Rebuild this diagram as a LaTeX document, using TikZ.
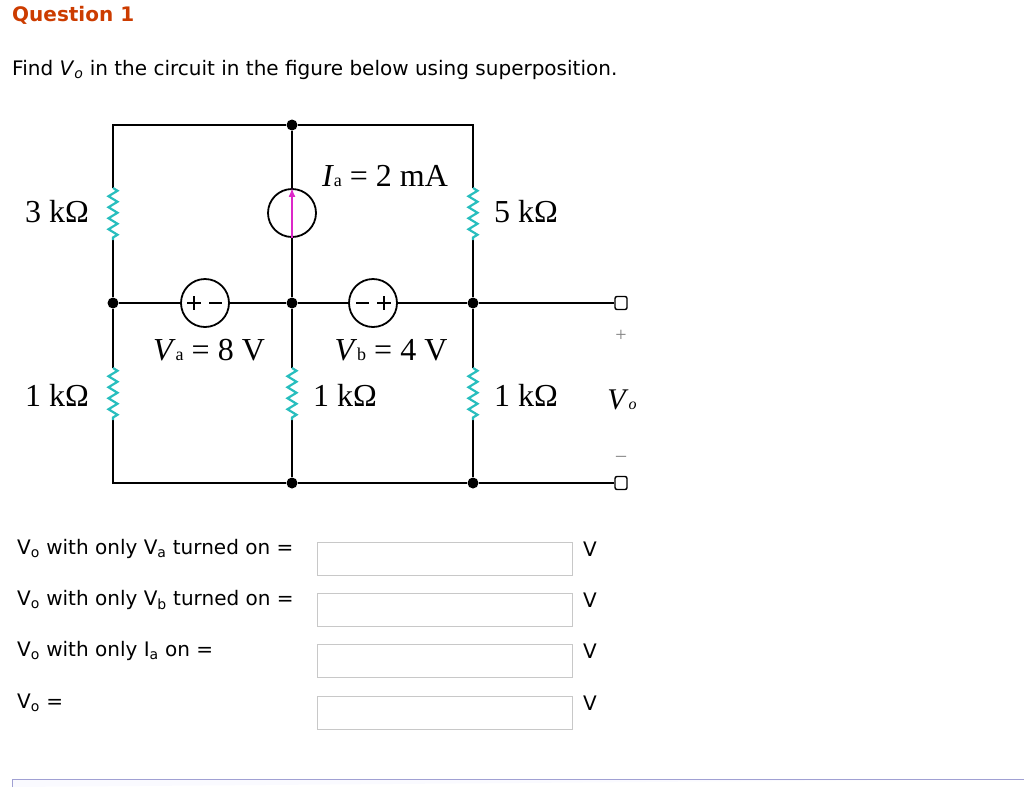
\documentclass[tikz,border=0pt]{standalone}
\usepackage{fontspec}
\setmainfont{Liberation Serif}
\newfontfamily\ui{DejaVu Sans}
\usetikzlibrary{decorations.pathmorphing}
\definecolor{qorange}{RGB}{204,60,0}
\definecolor{rescol}{RGB}{40,190,190}
\definecolor{srcpink}{RGB}{220,40,200}
\definecolor{boxgray}{RGB}{200,200,200}
\tikzset{
  wire/.style={line width=2.2pt},
  dotn/.style={circle,fill=black,inner sep=0pt,minimum size=11pt},
  term/.style={draw,fill=white,line width=1.4pt,inner sep=0pt,minimum width=12pt,minimum height=13pt,rounded corners=2pt},
  res/.style={rescol,line width=2.2pt,decorate,decoration={zigzag,amplitude=4.5pt,segment length=11pt}},
  src/.style={draw,circle,fill=white,line width=1.8pt,minimum size=48pt,inner sep=0pt},
  lab/.style={font=\fontsize{32}{36}\selectfont,inner sep=0pt},
  ui/.style={font=\ui\fontsize{20}{24}\selectfont,inner sep=0pt,anchor=west},
  ansbox/.style={draw=boxgray,line width=1pt,minimum width=255pt,minimum height=33pt,anchor=north west,inner sep=0pt}
}
\begin{document}
\begin{tikzpicture}[x=1pt,y=-1pt]
\useasboundingbox (0,0) rectangle (1024,787);
% nodes
\node[dotn] (tm) at (292,125) {};
\node[dotn] (ml) at (113,303) {};
\node[dotn] (mm) at (292,303) {};
\node[dotn] (mr) at (473,303) {};
\node[dotn] (bm) at (292,483) {};
\node[dotn] (br) at (473,483) {};
\coordinate (tl) at (113,125);
\coordinate (tr) at (473,125);
\coordinate (bl) at (113,483);
\node[term] (tp) at (621,303) {};
\node[term] (tn) at (621,483) {};
% resistor ends
\coordinate (r1a) at (113,188); \coordinate (r1b) at (113,240);
\coordinate (r2a) at (113,368); \coordinate (r2b) at (113,420);
\coordinate (r3a) at (292,368); \coordinate (r3b) at (292,420);
\coordinate (r4a) at (473,188); \coordinate (r4b) at (473,240);
\coordinate (r5a) at (473,368); \coordinate (r5b) at (473,420);
% sources
\node[src] (ia) at (292,213) {};
\node[src] (va) at (205,303) {};
\node[src] (vb) at (373,303) {};
% wires
\draw[wire] (ml) -- (r1b); \draw[wire] (r1a) -- (tl) -- (tm) -- (tr) -- (r4a);
\draw[wire] (r4b) -- (mr);
\draw[wire] (ml) -- (r2a); \draw[wire] (r2b) -- (bl) -- (bm) -- (br) -- (tn);
\draw[wire] (tm) -- (ia); \draw[wire] (ia) -- (mm);
\draw[wire] (ml) -- (va); \draw[wire] (va) -- (mm) -- (vb); \draw[wire] (vb) -- (mr) -- (tp);
\draw[wire] (mm) -- (r3a); \draw[wire] (r3b) -- (bm);
\draw[wire] (mr) -- (r5a); \draw[wire] (r5b) -- (br);
% resistors
\foreach \a/\b in {r1a/r1b,r2a/r2b,r3a/r3b,r4a/r4b,r5a/r5b}{\draw[res] (\a) -- (\b);}
% source marks
\draw[srcpink,line width=2pt,-latex] (ia.south) -- (ia.north);
\draw[line width=1.4pt] (187,303) -- (201,303) (194,296) -- (194,310) (209,303) -- (222,303);
\draw[line width=1.4pt] (356,303) -- (369,303) (377,303) -- (391,303) (384,296) -- (384,310);
% labels
\node[lab] (l1) at (57,212) {3 kΩ};
\node[lab] (l2) at (57,395) {1 kΩ};
\node[lab] (l3) at (345,395) {1 kΩ};
\node[lab] (l4) at (526,212) {5 kΩ};
\node[lab] (l5) at (526,395) {1 kΩ};
\node[lab] (l6) at (385,176) {\textit{I}{\fontsize{18}{20}\selectfont a} = 2 mA};
\node[lab] (l7) at (209,350) {\textit{V}{\fontsize{18}{20}\selectfont a} = 8 V};
\node[lab] (l8) at (391,350) {\textit{V}{\fontsize{18}{20}\selectfont b} = 4 V};
\node[lab] (l9) at (622,400) {\fontsize{30}{34}\selectfont\textit{V}{\fontsize{16}{18}\selectfont\textit{o}}};
\node[inner sep=0pt,font=\fontsize{20}{22}\selectfont,text=gray] (pl) at (621,336) {+};
\node[inner sep=0pt,font=\fontsize{20}{22}\selectfont,text=gray] (mi) at (621,459) {--};
% header text
\node[ui,font=\ui\bfseries\fontsize{20}{24}\selectfont,text=qorange] (q) at (12,15) {Question 1};
\node[ui] (f) at (12,70) {Find \textit{V}\textsubscript{\textit{o}} in the circuit in the figure below using superposition.};
% form
\node[ui] (t1) at (17,549) {V\textsubscript{o} with only V\textsubscript{a} turned on =};
\node[ui] (t2) at (17,600) {V\textsubscript{o} with only V\textsubscript{b} turned on =};
\node[ui] (t3) at (17,651) {V\textsubscript{o} with only I\textsubscript{a} on =};
\node[ui] (t4) at (17,703) {V\textsubscript{o} =};
\node[ansbox] (b1) at (317,542) {};
\node[ansbox] (b2) at (317,593) {};
\node[ansbox] (b3) at (317,644) {};
\node[ansbox] (b4) at (317,696) {};
\foreach \y in {549,600,651,703}{\node[ui] at (583,\y) {V};}
\draw[draw=boxgray!80!blue,fill=blue!2,line width=1pt] (12,787) -- (12,779) -- (1024,779);
\end{tikzpicture}
\end{document}
